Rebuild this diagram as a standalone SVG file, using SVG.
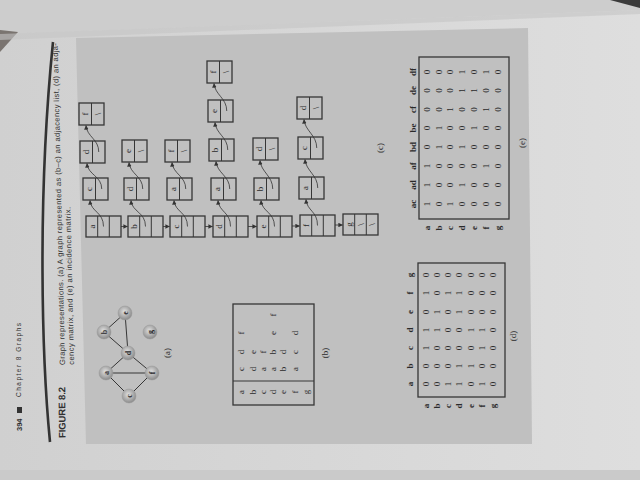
<svg xmlns="http://www.w3.org/2000/svg" width="640" height="480" viewBox="0 0 640 480">
<defs>
<radialGradient id="ng" cx="45%" cy="40%" r="60%"><stop offset="0" stop-color="#e0e0e0"/><stop offset="1" stop-color="#8a8a8a"/></radialGradient>
<linearGradient id="rp" x1="0" x2="1" y1="0" y2="0"><stop offset="0" stop-color="#d0d0d0"/><stop offset="1" stop-color="#dedede"/></linearGradient>
<marker id="ah" viewBox="0 0 6 6" refX="5.5" refY="3" markerWidth="4.5" markerHeight="4.5" markerUnits="userSpaceOnUse" orient="auto"><path d="M0 0 L6 3 L0 6 Z" fill="#333"/></marker>
<style>
.s{font-family:"Liberation Serif",serif;font-size:9px;fill:#2a2a2a;text-anchor:middle;dominant-baseline:central}
.b{font-weight:bold}
.n{font-size:8px;font-weight:bold}
.cap{font-family:"Liberation Sans",Arial,sans-serif;fill:#303030}
.cell{fill:none;stroke:#363636;stroke-width:1.3}
.ln{fill:none;stroke:#363636;stroke-width:1}
.cv{fill:none;stroke:#333;stroke-width:0.8;marker-end:url(#ah)}
.ed{stroke:#363636;stroke-width:1}
.nd{fill:url(#ng);stroke:#999;stroke-width:0.5}
</style>
</defs>
<rect width="640" height="480" fill="url(#rp)"/>
<path d="M0 0 H640 V10 L0 34 Z" fill="#cdcdcd"/>
<path d="M0 30 L18 32 L0 52 Z" fill="#7a7470"/>
<path d="M610 0 H640 V8 Z" fill="#3a3a3a"/>
<path d="M0 34 L640 10 V14 L0 40 Z" fill="#c4c4c4" opacity="0.6"/>
<polygon points="76,38 528,28 532,444 86,444" fill="#c0c0c0"/>
<rect x="0" y="470" width="640" height="10" fill="#cacaca"/>

<!-- header / caption -->
<path d="M50 442 C42 360 37 200 53 42" fill="none" stroke="#333" stroke-width="2.6"/>
<text class="cap" transform="translate(22,431) rotate(-90)" font-size="7.5" font-weight="bold">394</text>
<rect x="17" y="407" width="5" height="6" fill="#333"/>
<text class="cap" transform="translate(21,397) rotate(-90)" font-size="6.5" textLength="74" lengthAdjust="spacing">Chapter 8 Graphs</text>
<text class="cap" transform="translate(65.5,438) rotate(-90.4)" font-size="9.5" font-weight="bold" textLength="51">FIGURE 8.2</text>
<g class="cap" transform="translate(65,365) rotate(-91.3)" font-size="7.6">
<text x="0" y="0" textLength="322">Graph representations. (a) A graph represented as (b–c) an adjacency list, (d) an adja-</text>
<text x="0" y="9" textLength="158">cency matrix, and (e) an incidence matrix.</text>
</g>

<!-- (a) graph -->
<g id="graph-edges">
<line class="ed" x1="104" y1="332" x2="125" y2="313"/>
<line class="ed" x1="125" y1="313" x2="128" y2="353"/>
<line class="ed" x1="104" y1="332" x2="128" y2="353"/>
<line class="ed" x1="128" y1="353" x2="106" y2="373"/>
<line class="ed" x1="128" y1="353" x2="152" y2="373"/>
<line class="ed" x1="106" y1="373" x2="152" y2="373"/>
<line class="ed" x1="106" y1="373" x2="129" y2="396"/>
<line class="ed" x1="152" y1="373" x2="129" y2="396"/>
</g>
<g id="node-e"><circle class="nd" cx="125" cy="313" r="7"/></g>
<g id="node-b"><circle class="nd" cx="104" cy="332" r="7"/></g>
<g id="node-g"><circle class="nd" cx="150" cy="332" r="7"/></g>
<g id="node-d"><circle class="nd" cx="128" cy="353" r="7"/></g>
<g id="node-a"><circle class="nd" cx="106" cy="373" r="7"/></g>
<g id="node-f"><circle class="nd" cx="152" cy="373" r="7"/></g>
<g id="node-c"><circle class="nd" cx="129" cy="396" r="7"/></g>

<!-- (b) box -->
<rect class="cell" x="233" y="304" width="81" height="101"/>
<line class="ln" x1="233" y1="381" x2="314" y2="381"/>

<!-- (c) cells -->
<g id="headers">
<rect class="cell" x="86" y="216" width="35" height="21"/><path class="ln" d="M97.7 216V237M109.3 216V237"/>
<rect class="cell" x="128" y="216" width="35" height="21"/><path class="ln" d="M139.7 216V237M151.3 216V237"/>
<rect class="cell" x="170" y="216" width="35" height="21"/><path class="ln" d="M181.7 216V237M193.3 216V237"/>
<rect class="cell" x="213" y="216" width="35" height="21"/><path class="ln" d="M224.7 216V237M236.3 216V237"/>
<rect class="cell" x="257" y="216" width="35" height="21"/><path class="ln" d="M268.7 216V237M280.3 216V237"/>
<rect class="cell" x="300" y="215" width="35" height="21"/><path class="ln" d="M311.7 215V236M323.3 215V236"/>
<rect class="cell" x="343" y="214" width="35" height="21"/><path class="ln" d="M354.7 214V235M366.3 214V235"/>
</g>
<g id="list-nodes">
<rect class="cell" x="83" y="178" width="25" height="22"/><path class="ln" d="M95.5 178V200"/>
<rect class="cell" x="80" y="141" width="25" height="22"/><path class="ln" d="M92.5 141V163"/>
<rect class="cell" x="79" y="103" width="25" height="22"/><path class="ln" d="M91.5 103V125"/>
<rect class="cell" x="124" y="178" width="25" height="22"/><path class="ln" d="M136.5 178V200"/>
<rect class="cell" x="122" y="140" width="25" height="22"/><path class="ln" d="M134.5 140V162"/>
<rect class="cell" x="167" y="178" width="25" height="22"/><path class="ln" d="M179.5 178V200"/>
<rect class="cell" x="165" y="140" width="25" height="22"/><path class="ln" d="M177.5 140V162"/>
<rect class="cell" x="211" y="178" width="25" height="22"/><path class="ln" d="M223.5 178V200"/>
<rect class="cell" x="209" y="139" width="25" height="22"/><path class="ln" d="M221.5 139V161"/>
<rect class="cell" x="208" y="100" width="25" height="22"/><path class="ln" d="M220.5 100V122"/>
<rect class="cell" x="207" y="61" width="25" height="22"/><path class="ln" d="M219.5 61V83"/>
<rect class="cell" x="254" y="178" width="25" height="22"/><path class="ln" d="M266.5 178V200"/>
<rect class="cell" x="253" y="138" width="25" height="22"/><path class="ln" d="M265.5 138V160"/>
<rect class="cell" x="299" y="177" width="25" height="22"/><path class="ln" d="M311.5 177V199"/>
<rect class="cell" x="298" y="137" width="25" height="22"/><path class="ln" d="M310.5 137V159"/>
<rect class="cell" x="297" y="97" width="25" height="22"/><path class="ln" d="M309.5 97V119"/>
</g>
<g id="connectors">
<path class="cv" d="M121 226.5H127.5"/>
<path class="cv" d="M163 226.5H169.5"/>
<path class="cv" d="M205 226.5H212.5"/>
<path class="cv" d="M248 226.5H256.5"/>
<path class="cv" d="M292 226H299.5"/>
<path class="cv" d="M335 225H342.5"/>
<path class="cv" d="M103.5 226.5C103.5 212 91 212 90 200.5"/>
<path class="cv" d="M101.75 189C101.75 176 88 175 87 163.5"/>
<path class="cv" d="M98.75 152C98.75 139 87 137 86 125.5"/>
<path class="cv" d="M145.5 226.5C145.5 212 132 212 131 200.5"/>
<path class="cv" d="M142.75 189C142.75 176 130 174 129 162.5"/>
<path class="cv" d="M187.5 226.5C187.5 212 175 212 174 200.5"/>
<path class="cv" d="M185.75 189C185.75 176 173 174 172 162.5"/>
<path class="cv" d="M230.5 226.5C230.5 212 219 212 218 200.5"/>
<path class="cv" d="M229.75 189C229.75 176 217 173 216 161.5"/>
<path class="cv" d="M227.75 150C227.75 137 216 134 215 122.5"/>
<path class="cv" d="M226.75 111C226.75 98 215 95 214 83.5"/>
<path class="cv" d="M274.5 226.5C274.5 212 262 212 261 200.5"/>
<path class="cv" d="M272.75 189C272.75 176 261 172 260 160.5"/>
<path class="cv" d="M317.5 225.5C317.5 211 307 211 306 199.5"/>
<path class="cv" d="M317.75 188C317.75 175 306 171 305 159.5"/>
<path class="cv" d="M316.75 148C316.75 135 305 131 304 119.5"/>
</g>

<!-- matrix boxes -->
<rect class="cell" x="418" y="263" width="87" height="134"/>
<rect class="cell" x="419" y="57" width="90" height="162"/>

<!-- all rotated text: X=-y, Y=x -->
<g transform="rotate(-90)">
<g class="s n">
<text x="-313" y="125">e</text><text x="-332" y="104">b</text><text x="-332" y="150">g</text><text x="-353" y="128">d</text><text x="-373" y="106">a</text><text x="-373" y="152">f</text><text x="-396" y="129">c</text>
</g>
<g class="s">
<text x="-353" y="167">(a)</text>
<text x="-353" y="325">(b)</text>
<text x="-148" y="380">(c)</text>
<text x="-336" y="513">(d)</text>
<text x="-143" y="522">(e)</text>
<text x="-392" y="241">a</text><text x="-392" y="253">b</text><text x="-392" y="263">c</text><text x="-392" y="273">d</text><text x="-392" y="283">e</text><text x="-392" y="295">f</text><text x="-392" y="306">g</text>
<text x="-369" y="241">c</text><text x="-352" y="241">d</text><text x="-333" y="241">f</text>
<text x="-369" y="253">d</text><text x="-352" y="253">e</text>
<text x="-369" y="263">a</text><text x="-352" y="263">f</text>
<text x="-369" y="273">a</text><text x="-352" y="273">b</text><text x="-333" y="273">e</text><text x="-315" y="273">f</text>
<text x="-369" y="283">b</text><text x="-352" y="283">d</text>
<text x="-369" y="295">a</text><text x="-352" y="295">c</text><text x="-333" y="295">d</text>
<text x="-226.5" y="91.8">a</text><text x="-226.5" y="133.8">b</text><text x="-226.5" y="175.8">c</text><text x="-226.5" y="218.8">d</text><text x="-226.5" y="262.8">e</text><text x="-225.5" y="305.8">f</text><text x="-224.5" y="348.8">g</text><text x="-224.5" y="360.5">\</text><text x="-224.5" y="372.2">\</text>
<text x="-189" y="89.25">c</text><text x="-152" y="86.25">d</text><text x="-114" y="85.25">f</text><text x="-114" y="97.75">\</text>
<text x="-189" y="130.25">d</text><text x="-151" y="128.25">e</text><text x="-151" y="140.75">\</text>
<text x="-189" y="173.25">a</text><text x="-151" y="171.25">f</text><text x="-151" y="183.75">\</text>
<text x="-189" y="217.25">a</text><text x="-150" y="215.25">b</text><text x="-111" y="214.25">e</text><text x="-72" y="213.25">f</text><text x="-72" y="225.75">\</text>
<text x="-189" y="260.25">b</text><text x="-149" y="259.25">d</text><text x="-149" y="271.75">\</text>
<text x="-188" y="305.25">a</text><text x="-148" y="304.25">c</text><text x="-108" y="303.25">d</text><text x="-108" y="315.75">\</text>
</g>
<g class="s b">
<text x="-406" y="426">a</text><text x="-406" y="437">b</text><text x="-406" y="448">c</text><text x="-406" y="459">d</text><text x="-406" y="471">e</text><text x="-406" y="482">f</text><text x="-406" y="493">g</text>
<text x="-384" y="410">a</text><text x="-366" y="410">b</text><text x="-348" y="410">c</text><text x="-330" y="410">d</text><text x="-312" y="410">e</text><text x="-293" y="410">f</text><text x="-275" y="410">g</text>
</g>
<g class="s">
<text x="-384" y="426">0</text><text x="-366" y="426">0</text><text x="-348" y="426">1</text><text x="-330" y="426">1</text><text x="-312" y="426">0</text><text x="-293" y="426">1</text><text x="-275" y="426">0</text>
<text x="-384" y="437">0</text><text x="-366" y="437">0</text><text x="-348" y="437">0</text><text x="-330" y="437">1</text><text x="-312" y="437">1</text><text x="-293" y="437">0</text><text x="-275" y="437">0</text>
<text x="-384" y="448">1</text><text x="-366" y="448">0</text><text x="-348" y="448">0</text><text x="-330" y="448">0</text><text x="-312" y="448">0</text><text x="-293" y="448">1</text><text x="-275" y="448">0</text>
<text x="-384" y="459">1</text><text x="-366" y="459">1</text><text x="-348" y="459">0</text><text x="-330" y="459">0</text><text x="-312" y="459">1</text><text x="-293" y="459">1</text><text x="-275" y="459">0</text>
<text x="-384" y="471">0</text><text x="-366" y="471">1</text><text x="-348" y="471">0</text><text x="-330" y="471">1</text><text x="-312" y="471">0</text><text x="-293" y="471">0</text><text x="-275" y="471">0</text>
<text x="-384" y="482">1</text><text x="-366" y="482">0</text><text x="-348" y="482">1</text><text x="-330" y="482">1</text><text x="-312" y="482">0</text><text x="-293" y="482">0</text><text x="-275" y="482">0</text>
<text x="-384" y="493">0</text><text x="-366" y="493">0</text><text x="-348" y="493">0</text><text x="-330" y="493">0</text><text x="-312" y="493">0</text><text x="-293" y="493">0</text><text x="-275" y="493">0</text>
</g>
<g class="s b">
<text x="-228" y="427">a</text><text x="-228" y="438.5">b</text><text x="-228" y="450">c</text><text x="-228" y="462">d</text><text x="-228" y="474">e</text><text x="-228" y="486">f</text><text x="-228" y="498">g</text>
<text x="-204" y="413">ac</text><text x="-185" y="413">ad</text><text x="-166" y="413">af</text><text x="-147" y="413">bd</text><text x="-128" y="413">be</text><text x="-109.5" y="413">cf</text><text x="-90.5" y="413">de</text><text x="-72" y="413">df</text>
</g>
<g class="s">
<text x="-204" y="427">1</text><text x="-185" y="427">1</text><text x="-166" y="427">1</text><text x="-147" y="427">0</text><text x="-128" y="427">0</text><text x="-109.5" y="427">0</text><text x="-90.5" y="427">0</text><text x="-72" y="427">0</text>
<text x="-204" y="438.5">0</text><text x="-185" y="438.5">0</text><text x="-166" y="438.5">0</text><text x="-147" y="438.5">1</text><text x="-128" y="438.5">1</text><text x="-109.5" y="438.5">0</text><text x="-90.5" y="438.5">0</text><text x="-72" y="438.5">0</text>
<text x="-204" y="450">1</text><text x="-185" y="450">0</text><text x="-166" y="450">0</text><text x="-147" y="450">0</text><text x="-128" y="450">0</text><text x="-109.5" y="450">1</text><text x="-90.5" y="450">0</text><text x="-72" y="450">0</text>
<text x="-204" y="462">0</text><text x="-185" y="462">1</text><text x="-166" y="462">0</text><text x="-147" y="462">1</text><text x="-128" y="462">0</text><text x="-109.5" y="462">0</text><text x="-90.5" y="462">1</text><text x="-72" y="462">1</text>
<text x="-204" y="474">0</text><text x="-185" y="474">0</text><text x="-166" y="474">0</text><text x="-147" y="474">0</text><text x="-128" y="474">1</text><text x="-109.5" y="474">0</text><text x="-90.5" y="474">1</text><text x="-72" y="474">0</text>
<text x="-204" y="486">0</text><text x="-185" y="486">0</text><text x="-166" y="486">1</text><text x="-147" y="486">0</text><text x="-128" y="486">0</text><text x="-109.5" y="486">1</text><text x="-90.5" y="486">0</text><text x="-72" y="486">1</text>
<text x="-204" y="498">0</text><text x="-185" y="498">0</text><text x="-166" y="498">0</text><text x="-147" y="498">0</text><text x="-128" y="498">0</text><text x="-109.5" y="498">0</text><text x="-90.5" y="498">0</text><text x="-72" y="498">0</text>
</g>
</g>
</svg>
